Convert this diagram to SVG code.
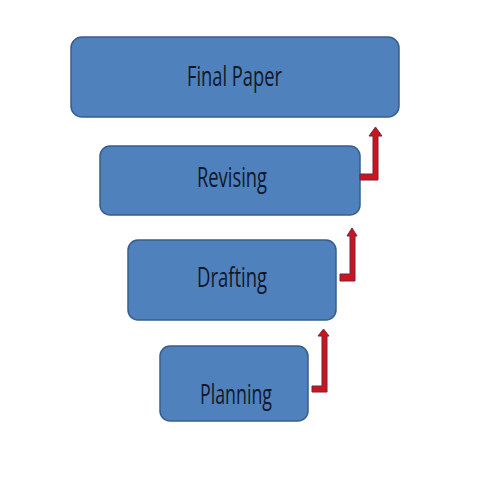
<svg xmlns="http://www.w3.org/2000/svg" width="480" height="480" viewBox="0 0 480 480">
<style>
.box{fill:#4f81bd;stroke:#385d8a;stroke-width:1.5}
.lbl{font-family:"Open Sans","Liberation Sans",sans-serif;font-size:27px;fill:#10182a;text-anchor:middle}
.arr{fill:#c8161e;stroke:#7a2140;stroke-width:1}
</style>
<rect width="480" height="480" fill="#ffffff"/>
<g id="final-paper">
<rect class="box" x="71" y="37" width="328" height="80" rx="11"/>
<text class="lbl" x="234.5" y="86" textLength="95" lengthAdjust="spacingAndGlyphs">Final Paper</text>
</g>
<g id="revising">
<rect class="box" x="100" y="146" width="260" height="69" rx="10"/>
<text class="lbl" x="232" y="187" textLength="70" lengthAdjust="spacingAndGlyphs">Revising</text>
</g>
<g id="drafting">
<rect class="box" x="128" y="240" width="208" height="80" rx="10"/>
<text class="lbl" x="232" y="287" textLength="70" lengthAdjust="spacingAndGlyphs">Drafting</text>
</g>
<g id="planning">
<rect class="box" x="160" y="346" width="148" height="75" rx="10"/>
<text class="lbl" x="236" y="404" textLength="72" lengthAdjust="spacingAndGlyphs">Planning</text>
</g>
<g id="connectors">
<path class="arr" d="M360,174 H373 V136 H369 L375.5,127 L382,136 H378 V180 H360 Z"/>
<path class="arr" d="M340,274 H350 V236 H347 L352,228 L357,236 H355 V281 H340 Z"/>
<path class="arr" d="M312,386 H322 V336 H318 L323.5,329 L329,336 H327 V392 H312 Z"/>
</g>
</svg>
